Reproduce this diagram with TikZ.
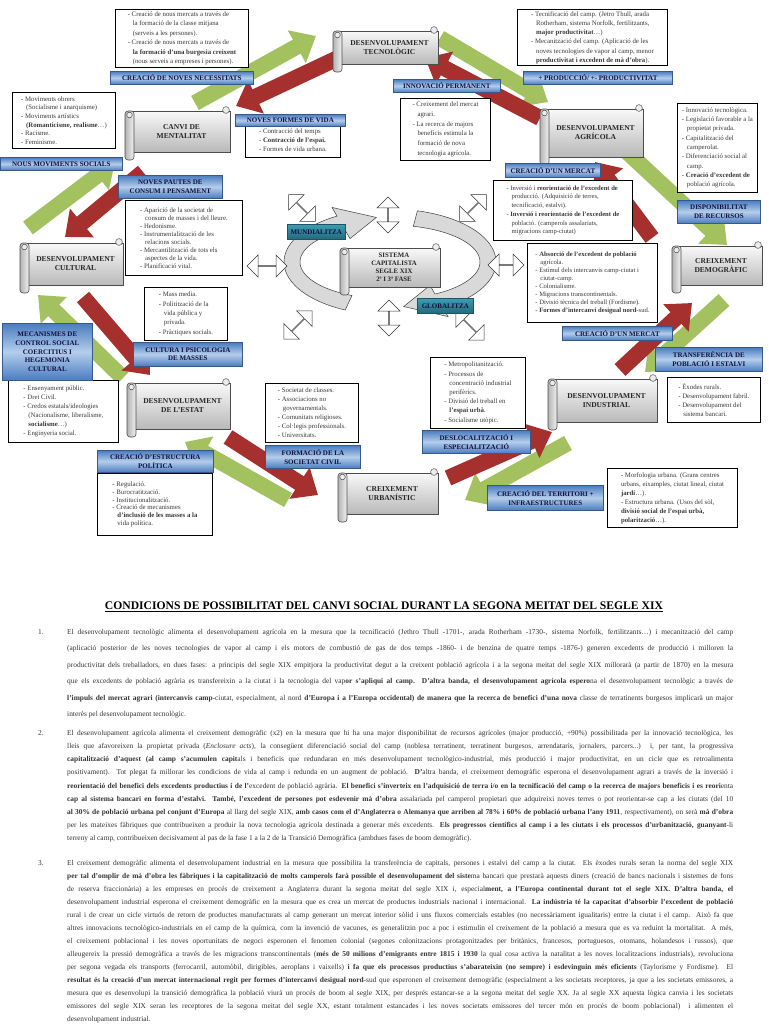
\documentclass[tikz,border=0pt]{standalone}
\usepackage{fontspec}
\setmainfont{Liberation Serif}
\usepackage{graphicx}
\usetikzlibrary{shapes.arrows,arrows.meta}
\definecolor{agreen}{HTML}{A3C25F}
\definecolor{ared}{HTML}{A5302D}
\definecolor{lblue}{HTML}{B4CDEB}
\definecolor{dblue}{HTML}{4A7CC0}
\definecolor{bblue}{HTML}{35598A}
\definecolor{navy}{HTML}{101040}
\definecolor{tealA}{HTML}{3E9DB3}
\definecolor{tealB}{HTML}{23697C}
\definecolor{tgray}{HTML}{383838}
\newcommand\ptext{\fontsize{7.4}{9}\selectfont}
\newcommand\hi{\hspace*{5pt}}
\newlength\plinewd \setlength\plinewd{666pt}
\tikzset{
  tbox/.style={draw=black, fill=white, line width=0.9pt, anchor=north west, inner xsep=2.5pt, inner ysep=2pt, align=left, text=tgray},
  blbl/.style={draw=bblue, line width=0.7pt, top color=dblue, bottom color=dblue, middle color=lblue, anchor=north west, inner sep=0pt, align=center, text=navy, font=\fontsize{7}{8.7}\selectfont\bfseries},
  tlbl/.style={draw=tealB!80!black, line width=0.6pt, top color=tealA, bottom color=tealB, anchor=north west, inner sep=0pt, align=center, text=navy, font=\fontsize{7}{8.7}\selectfont\bfseries},
  garrow/.style={line width=16pt, agreen, -{Triangle[width=36pt,length=22pt]}},
  rarrow/.style={line width=16pt, ared, -{Triangle[width=36pt,length=22pt]}},
  dblarrow/.style={double arrow, draw=black!80, fill=white, line width=0.5pt, inner sep=0pt, minimum width=22pt, double arrow head extend=6pt},
  scrolltxt/.style={align=center, text=black!85, inner sep=0pt},
  band/.style={fill=gray!30, draw=black!75, line width=0.5pt},
  ptxt/.style={anchor=base west, inner sep=0pt, text=black!80}
}
% scroll: name, x1, y1, x2, y2, font, text
\newcommand\scrollnode[7]{%
  \path[draw=black!70, line width=0.6pt, top color=gray!5, bottom color=gray!55] (#2+6,#3+6) rectangle (#4,#5-8);
  \path[draw=black!70, line width=0.6pt, left color=gray!60, right color=gray!10, rounded corners=3pt] (#2,#3+6) rectangle (#2+9,#5);
  \draw[black!70, fill=gray!15, line width=0.5pt] (#2+4.5,#3+10) circle (2.8);
  \draw[black!70, fill=gray!15, line width=0.5pt] (#4-4,#3+5) circle (3.4);
  \node[scrolltxt, font=#6] (#1) at ({(#2+#4)/2+4},{(#3+#5)/2-1}) {#7};
}
% text box: name, x1, y1, x2, y2, size, skip, text
\newcommand\tbx[8]{%
  \node[tbox, minimum width={\the\dimexpr #4pt-#2pt\relax}, minimum height={\the\dimexpr #5pt-#3pt\relax}, font=\fontsize{#6}{#7}\selectfont] (#1) at (#2,#3) {#8};}
\newcommand\blab[6]{%
  \node[blbl, minimum width={\the\dimexpr #4pt-#2pt\relax}, minimum height={\the\dimexpr #5pt-#3pt\relax}] (#1) at (#2,#3) {#6};}
\newcommand\tlab[6]{%
  \node[tlbl, minimum width={\the\dimexpr #4pt-#2pt\relax}, minimum height={\the\dimexpr #5pt-#3pt\relax}] (#1) at (#2,#3) {#6};}
\newcommand\JL[3]{%
  \setbox0=\hbox{\ptext #3}%
  \ifdim\wd0>\plinewd
    \pgfmathsetmacro\sfac{666/\the\wd0}%
    \node[ptxt] (#1) at (67,#2) {\scalebox{\sfac}[1]{\ptext #3}};
  \else
    \node[ptxt] (#1) at (67,#2) {\hbox to \plinewd{\ptext #3}};
  \fi}
\newcommand\LL[3]{\node[ptxt, font=\ptext] (#1) at (67,#2) {#3};}
\begin{document}
\begin{tikzpicture}[x=1pt,y=-1pt]
\useasboundingbox (0,0) rectangle (768,1024);
\fill[white] (0,0) rectangle (768,1024);

% ---------- block arrows ----------
\coordinate (g1a) at (195,103); \coordinate (g1b) at (316,36);
\coordinate (r1a) at (338,58);  \coordinate (r1b) at (236,106);
\coordinate (g2a) at (440,38);  \coordinate (g2b) at (548,102);
\coordinate (r2a) at (540,118); \coordinate (r2b) at (425,58);
\coordinate (g3a) at (625,150); \coordinate (g3b) at (727,245);
\coordinate (r3a) at (652,238); \coordinate (r3b) at (595,162);
\coordinate (g4a) at (724,300); \coordinate (g4b) at (645,372);
\coordinate (r4a) at (620,370); \coordinate (r4b) at (692,303);
\coordinate (g5a) at (568,443); \coordinate (g5b) at (465,500);
\coordinate (r5a) at (448,478); \coordinate (r5b) at (552,432);
\coordinate (g6a) at (288,500); \coordinate (g6b) at (185,442);
\coordinate (r6a) at (228,437); \coordinate (r6b) at (318,495);
\coordinate (g7a) at (123,378); \coordinate (g7b) at (38,295);
\coordinate (r7a) at (83,297);  \coordinate (r7b) at (150,375);
\coordinate (g8a) at (28,228);  \coordinate (g8b) at (115,162);
\coordinate (r8a) at (143,172); \coordinate (r8b) at (65,237);
\foreach \n in {1,...,8} {\draw[garrow] (g\n a) -- (g\n b);}
\foreach \n in {1,...,8} {\draw[rarrow] (r\n a) -- (r\n b);}

% ---------- central circular arrows ----------
\def\ecx{390}\def\ecy{262}\def\erx{98}\def\ery{45}
\path[band] plot[domain=115:240,samples=40] ({\ecx+(\erx+8)*cos(\x)},{\ecy+(\ery+8)*sin(\x)})
  -- ({\ecx+(\erx+18)*cos(240)},{\ecy+(\ery+18)*sin(240)})
  -- ({\ecx+\erx*cos(262)},{\ecy+\ery*sin(262)})
  -- ({\ecx+(\erx-18)*cos(240)},{\ecy+(\ery-18)*sin(240)})
  -- plot[domain=240:115,samples=40] ({\ecx+(\erx-8)*cos(\x)},{\ecy+(\ery-8)*sin(\x)}) -- cycle;
\path[band] plot[domain=285:420,samples=40] ({\ecx+(\erx+8)*cos(\x)},{\ecy+(\ery+8)*sin(\x)})
  -- ({\ecx+(\erx+18)*cos(420)},{\ecy+(\ery+18)*sin(420)})
  -- ({\ecx+\erx*cos(442)},{\ecy+\ery*sin(442)})
  -- ({\ecx+(\erx-18)*cos(420)},{\ecy+(\ery-18)*sin(420)})
  -- plot[domain=420:285,samples=40] ({\ecx+(\erx-8)*cos(\x)},{\ecy+(\ery-8)*sin(\x)}) -- cycle;

\node[dblarrow, minimum height=40pt] (dl) at (267,266) {};
\node[dblarrow, minimum height=36pt] (dr) at (506,265) {};
\node[dblarrow, minimum height=36pt, rotate=90] (dt) at (388,215) {};
\node[dblarrow, minimum height=36pt, rotate=90] (db) at (389,318) {};
\node[dblarrow, minimum height=38pt, rotate=-45] (dul) at (302,208) {};
\node[dblarrow, minimum height=38pt, rotate=45] (dur) at (473,208) {};
\node[dblarrow, minimum height=40pt, rotate=45] (dll) at (298,325) {};
\node[dblarrow, minimum height=40pt, rotate=-45] (dlr) at (470,326) {};

% ---------- scrolls ----------
\def\sf{\fontsize{7.5}{9}\selectfont\bfseries}
\scrollnode{tec}{333}{25}{438}{72}{\sf}{DESENVOLUPAMENT\\TECNOLÒGIC}
\scrollnode{men}{125}{105}{230}{160}{\sf}{CANVI DE\\MENTALITAT}
\scrollnode{agr}{540}{103}{643}{165}{\sf}{DESENVOLUPAMENT\\AGRÍCOLA}
\scrollnode{cul}{20}{237}{123}{293}{\sf}{DESENVOLUPAMENT\\CULTURAL}
\scrollnode{dem}{672}{240}{762}{293}{\sf}{CREIXEMENT\\DEMOGRÀFIC}
\scrollnode{sis}{340}{242}{440}{295}{\fontsize{6.8}{8}\selectfont\bfseries}{SISTEMA\\CAPITALISTA\\SEGLE XIX\\2ª I 3ª FASE}
\scrollnode{est}{127}{377}{230}{437}{\sf}{DESENVOLUPAMENT\\DE L'ESTAT}
\scrollnode{ind}{548}{373}{657}{430}{\sf}{DESENVOLUPAMENT\\INDUSTRIAL}
\scrollnode{urb}{338}{467}{438}{522}{\sf}{CREIXEMENT\\URBANÍSTIC}

% ---------- text boxes ----------
\tbx{b1}{115}{9}{248}{67}{6.8}{9.4}{- Creació de nous mercats a través de\\\hi la formació de la classe mitjana\\\hi (serveis a les persones).\\- Creació de nous mercats a través de\\\hi \textbf{la formació d'una burgesia creixent}\\\hi (nous serveis a empreses i persones).}
\tbx{b2}{12}{92}{115}{148}{6.8}{8.7}{- Moviments obrers\\\hi (Socialisme i anarquisme)\\- Moviments artístics\\\hi \textbf{(Romanticisme, realisme}…)\\- Racisme.\\- Feminisme.}
\tbx{b3}{245}{122}{340}{157}{6.8}{9.2}{- Contracció del temps\\- \textbf{Contracció de l'espai.}\\- Formes de vida urbana.}
\tbx{b4}{517}{9}{667}{65}{6.8}{9.2}{- Tecnificació del camp. (Jetro Thull, arada\\\hi Rotherham, sistema Norfolk, fertilitzants,\\\hi \textbf{major productivitat}…)\\- Mecanització del camp. (Aplicació de les\\\hi noves tecnologies de vapor al camp, menor\\\hi \textbf{productivitat i excedent de mà d'obra}).}
\tbx{b5}{400}{98}{490}{160}{6.8}{9.8}{- Creixement del mercat\\\hi agrari.\\- La recerca de majors\\\hi beneficis estimula la\\\hi formació de nova\\\hi tecnologia agrícola.}
\tbx{b6}{677}{103}{757}{192}{6.8}{9.3}{- Innovació tecnològica.\\- Legislació favorable a la\\\hi propietat privada.\\- Capitalització del\\\hi camperolat.\\- Diferenciació social al\\\hi camp.\\- \textbf{Creació d'excedent de}\\\hi població agrícola.}
\tbx{b7}{125}{200}{242}{275}{6.8}{8}{- Aparició de la societat de\\\hi consum de masses i del lleure.\\- Hedonisme.\\- Instrumentalització de les\\\hi relacions socials.\\- Mercantilització de tots els\\\hi aspectes de la vida.\\- Planificació vital.}
\tbx{b8}{144}{287}{227}{340}{6.8}{9.4}{- Mass media.\\- Politització de la\\\hi vida pública y\\\hi privada.\\- Pràctiques socials.}
\tbx{b9}{493}{180}{632}{240}{6.6}{8.7}{- Inversió i \textbf{reorientació de l'excedent de}\\\hi producció. (Adquisició de terres,\\\hi tecnificació, estalvi).\\- \textbf{Inversió i reorientació de l'excedent de}\\\hi població. (camperols assalariats,\\\hi migracions camp-ciutat)}
\tbx{b10}{527}{243}{657}{322}{6.6}{7.9}{- \textbf{Absorció de l'excedent de població}\\\hi agrícola.\\- Estímul dels intercanvis camp-ciutat i\\\hi ciutat-camp.\\- Colonialisme.\\- Migracions transcontinentals.\\- Divisió tècnica del treball (Fordisme).\\- \textbf{Formes d'intercanvi desigual nord}-sud.}
\tbx{b11}{8}{380}{118}{442}{6.8}{9}{- Ensenyament públic.\\- Dret Civil.\\- Credos estatals/ideologies\\\hi (Nacionalisme, liberalisme,\\\hi \textbf{socialisme}…)\\- Enginyeria social.}
\tbx{b12}{265}{383}{358}{442}{6.8}{9}{- Societat de classes.\\- Associacions no\\\hi governamentals.\\- Comunitats religioses.\\- Col·legis professionals.\\- Universitats.}
\tbx{b13}{97}{473}{212}{535}{6.8}{7.8}{- Regulació.\\- Burocratització.\\- Institucionalització.\\- Creació de mecanismes\\\hi \textbf{d'inclusió de les masses a la}\\\hi vida política.}
\tbx{b14}{430}{357}{525}{428}{6.8}{9.2}{- Metropolitanització.\\- Processos de\\\hi concentració industrial\\\hi perifèrics.\\- Divisió del treball en\\\hi \textbf{l'espai urbà}.\\- Socialisme utòpic.}
\tbx{b15}{667}{377}{760}{422}{6.8}{8.9}{- Èxodes rurals.\\- Desenvolupament fabril.\\- Desenvolupament del\\\hi sistema bancari.}
\tbx{b16}{607}{468}{737}{527}{6.8}{9}{- Morfologia urbana. (Grans centres\\urbans, eixamples, ciutat lineal, ciutat\\\textbf{jardí}…).\\- Estructura urbana. (Usos del sòl,\\\textbf{divisió social de l'espai urbà,}\\\textbf{polarització}…).}

% ---------- labels ----------
\blab{l1}{110}{71}{253}{84}{CREACIÓ DE NOVES NECESSITATS}
\blab{l2}{235}{114}{345}{126}{NOVES FORMES DE VIDA}
\blab{l3}{0}{157}{122}{170}{NOUS MOVIMENTS SOCIALS}
\blab{l4}{118}{175}{222}{198}{NOVES PAUTES DE\\CONSUM I PENSAMENT}
\blab{l5}{393}{79}{500}{92}{INNOVACIÓ PERMANENT}
\blab{l6}{523}{71}{672}{84}{+ PRODUCCIÓ/ +- PRODUCTIVITAT}
\blab{l7}{505}{163}{600}{177}{CREACIÓ D'UN MERCAT}
\blab{l8}{677}{200}{760}{223}{DISPONIBILITAT\\DE RECURSOS}
\blab{l9}{2}{323}{92}{380}{MECANISMES DE\\CONTROL SOCIAL\\COERCITIUS I\\HEGEMONIA\\CULTURAL}
\blab{l10}{133}{342}{242}{366}{CULTURA I PSICOLOGIA\\DE MASSES}
\blab{l11}{562}{326}{672}{340}{CREACIÓ D'UN MERCAT}
\blab{l12}{655}{347}{762}{371}{TRANSFERÈNCIA DE\\POBLACIÓ I ESTALVI}
\blab{l13}{97}{450}{213}{472}{CREACIÓ D'ESTRUCTURA\\POLÍTICA}
\blab{l14}{265}{445}{360}{468}{FORMACIÓ DE LA\\SOCIETAT CIVIL}
\blab{l15}{422}{430}{530}{453}{DESLOCALITZACIÓ I\\ESPECIALITZACIÓ}
\blab{l16}{487}{485}{603}{510}{CREACIÓ DEL TERRITORI +\\INFRAESTRUCTURES}
\tlab{t1}{287}{224}{345}{239}{MUNDIALITZA}
\tlab{t2}{417}{298}{473}{313}{GLOBALITZA}

% ---------- title ----------
\node[anchor=base, inner sep=0pt] (title) at (384,609) {\resizebox{558pt}{!}{\fontsize{11.5}{13}\selectfont\bfseries CONDICIONS DE POSSIBILITAT DEL CANVI SOCIAL DURANT LA SEGONA MEITAT DEL SEGLE XIX}};
\coordinate (ul1) at (105,611.5); \coordinate (ul2) at (663,611.5);
\draw[line width=0.8pt] (ul1) -- (ul2);

% ---------- paragraphs ----------
\node[ptxt, font=\ptext] (n1) at (38,634) {1.};
\node[ptxt, font=\ptext] (n2) at (38,735) {2.};
\node[ptxt, font=\ptext] (n3) at (38,865) {3.};

\JL{p1a}{634}{El desenvolupament tecnològic alimenta el desenvolupament agrícola en la mesura que la tecnificació (Jethro Thull -1701-, arada Rotherham -1730-, sistema Norfolk, fertilitzants…) i mecanització del camp}
\JL{p1b}{650}{(aplicació posterior de les noves tecnologies de vapor al camp i els motors de combustió de gas de dos temps -1860- i de benzina de quatre temps -1876-) generen excedents de producció i milloren la}
\JL{p1c}{667}{productivitat dels treballadors, en dues fases: a principis del segle XIX empitjora la productivitat degut a la creixent població agrícola i a la segona meitat del segle XIX millorarà (a partir de 1870) en la mesura}
\JL{p1d}{683}{que els excedents de població agrària es transfereixin a la ciutat i la tecnologia del vap\textbf{or s'apliqui al camp. D'altra banda, el desenvolupament agrícola espero}na el desenvolupament tecnològic a través de}
\JL{p1e}{700}{\textbf{l'impuls del mercat agrari (intercanvis camp}-ciutat, especialment, al nord \textbf{d'Europa i a l'Europa occidental) de manera que la recerca de benefici d'una nova} classe de terratinents burgesos implicarà un major}
\LL{p1f}{716}{interès pel desenvolupament tecnològic.}

\JL{p2a}{735}{El desenvolupament agrícola alimenta el creixement demogràfic (x2) en la mesura que hi ha una major disponibilitat de recursos agrícoles (major producció, +90\%) possibilitada per la innovació tecnològica, les}
\JL{p2b}{748}{lleis que afavoreixen la propietat privada (\textit{Enclosure acts}), la consegüent diferenciació social del camp (noblesa terratinent, terratinent burgesos, arrendataris, jornalers, parcers...) i, per tant, la progressiva}
\JL{p2c}{761}{\textbf{capitalització d'aquest (al camp s'acumulen capit}als i beneficis que redundaran en més desenvolupament tecnològico-industrial, més producció i major productivitat, en un cicle que es retroalimenta}
\JL{p2d}{774}{positivament). Tot plegat fa millorar les condicions de vida al camp i redunda en un augment de població. \textbf{D'}altra banda, el creixement demogràfic esperona el desenvolupament agrari a través de la inversió i}
\JL{p2e}{788}{\textbf{reorientació del benefici dels excedents productius i de l'}excedent de població agrària. \textbf{El benefici s'inverteix en l'adquisició de terra i/o en la tecnificació del camp o la recerca de majors beneficis i es reori}enta}
\JL{p2f}{801}{\textbf{cap al sistema bancari en forma d'estalvi. També, l'excedent de persones pot esdevenir mà d'obra} assalariada pel camperol propietari que adquireixi noves terres o pot reorientar-se cap a les ciutats (del 10}
\JL{p2g}{814}{\textbf{al 30\% de població urbana pel conjunt d'Europa} al llarg del segle XIX, \textbf{amb casos com el d'Anglaterra o Alemanya que arriben al 78\% i 60\% de població urbana l'any 1911}, respectivament), on serà \textbf{mà d'obra}}
\JL{p2h}{827}{per les mateixes fàbriques que contribueixen a produir la nova tecnologia agrícola destinada a generar més excedents. \textbf{Els progressos científics al camp i a les ciutats i els processos d'urbanització, guanyant}-li}
\LL{p2i}{840}{terreny al camp, contribueixen decisivament al pas de la fase 1 a la 2 de la Transició Demogràfica (ambdues fases de boom demogràfic).}

\JL{p3a}{865}{El creixement demogràfic alimenta el desenvolupament industrial en la mesura que possibilita la transferència de capitals, persones i estalvi del camp a la ciutat. Els èxodes rurals seran la norma del segle XIX}
\JL{p3b}{878}{\textbf{per tal d'omplir de mà d'obra les fàbriques i la capitalització de molts camperols farà possible el desenvolupament del siste}ma bancari que prestarà aquests diners (creació de bancs nacionals i sistemes de fons}
\JL{p3c}{891}{de reserva fraccionària) a les empreses en procés de creixement a Anglaterra durant la segona meitat del segle XIX i, especial\textbf{ment, a l'Europa continental durant tot el segle XIX. D'altra banda, el}}
\JL{p3d}{904}{desenvolupament industrial esperona el creixement demogràfic en la mesura que es crea un mercat de productes industrials nacional i internacional. \textbf{La indústria té la capacitat d'absorbir l'excedent de població}}
\JL{p3e}{917}{rural i de crear un cicle virtuós de retorn de productes manufacturats al camp generant un mercat interior sòlid i uns fluxos comercials estables (no necessàriament igualitaris) entre la ciutat i el camp. Això fa que}
\JL{p3f}{930}{altres innovacions tecnològico-industrials en el camp de la química, com la invenció de vacunes, es generalitzin poc a poc i estimulin el creixement de la població a mesura que es va reduint la mortalitat. A més,}
\JL{p3g}{943}{el creixement poblacional i les noves oportunitats de negoci esperonen el fenomen colonial (segones colonitzacions protagonitzades per britànics, francesos, portuguesos, otomans, holandesos i russos), que}
\JL{p3h}{956}{alleugereix la pressió demogràfica a través de les migracions transcontinentals (\textbf{més de 50 milions d'emigrants entre 1815 i 1930} la qual cosa activa la natalitat a les noves localitzacions industrials), revoluciona}
\JL{p3i}{969}{per segona vegada els transports (ferrocarril, automòbil, dirigibles, aeroplans i vaixells) \textbf{i fa que els processos productius s'abarateixin (no sempre) i esdevinguin més eficients} (Taylorisme y Fordisme). El}
\JL{p3j}{982}{\textbf{resultat és la creació d'un mercat internacional regit per formes d'intercanvi desigual nord}-sud que esperonen el creixement demogràfic (especialment a les societats receptores, ja que a les societats emissores, a}
\JL{p3k}{995}{mesura que es desenvolupi la transició demogràfica la població viurà un procés de boom al segle XIX, per després estancar-se a la segona meitat del segle XX. Ja al segle XX aquesta lògica canvia i les societats}
\JL{p3l}{1008}{emissores del segle XIX seran les receptores de la segona meitat del segle XX, estant totalment estancades i les noves societats emissores del tercer món en procés de boom poblacional) \ i alimenten el}
\LL{p3m}{1021}{desenvolupament industrial.}
\end{tikzpicture}
\end{document}
